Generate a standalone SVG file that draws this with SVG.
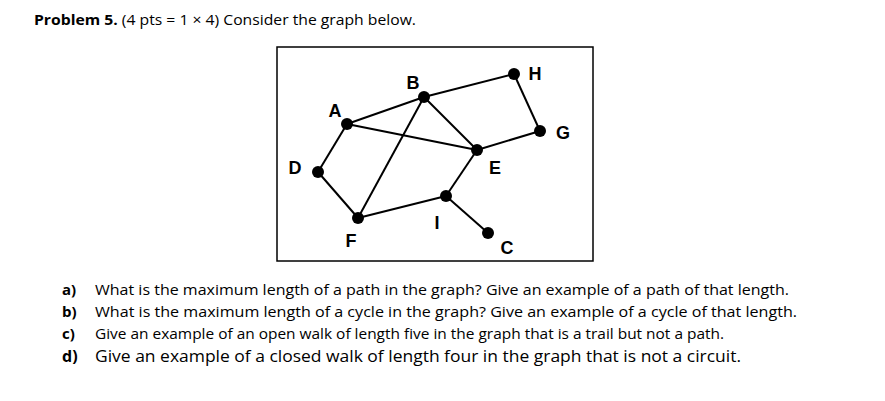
<svg xmlns="http://www.w3.org/2000/svg" width="885" height="401" viewBox="0 0 885 401">
<style>
.t{font-family:"Open Sans","Liberation Sans",sans-serif;font-size:15px;fill:#000}
.l{font-family:"Liberation Sans",Arial,sans-serif;font-size:18px;font-weight:bold;fill:#000;text-anchor:middle}
.e{stroke:#000;stroke-width:2}
</style>
<rect width="885" height="401" fill="#fff"/>
<text class="t" x="34" y="25" textLength="382" lengthAdjust="spacingAndGlyphs"><tspan font-weight="bold">Problem 5.</tspan> (4 pts = 1 × 4) Consider the graph below.</text>
<rect x="277" y="47" width="316" height="214" fill="none" stroke="#000" stroke-width="1.5"/>
<g id="edges" class="e">
<line x1="347" y1="124" x2="424" y2="97"/>
<line x1="424" y1="97" x2="514" y2="74"/>
<line x1="514" y1="74" x2="540" y2="131"/>
<line x1="540" y1="131" x2="477" y2="150"/>
<line x1="347" y1="124" x2="477" y2="150"/>
<line x1="424" y1="97" x2="477" y2="150"/>
<line x1="424" y1="97" x2="358" y2="218"/>
<line x1="347" y1="124" x2="318" y2="172"/>
<line x1="318" y1="172" x2="358" y2="218"/>
<line x1="358" y1="218" x2="446" y2="196"/>
<line x1="446" y1="196" x2="477" y2="150"/>
<line x1="446" y1="196" x2="488" y2="233"/>
</g>
<g id="A"><circle cx="347" cy="124" r="6"/><text class="l" x="335" y="117">A</text></g>
<g id="B"><circle cx="424" cy="97" r="6"/><text class="l" x="413" y="89">B</text></g>
<g id="H"><circle cx="514" cy="74" r="6"/><text class="l" x="535" y="80">H</text></g>
<g id="G"><circle cx="540" cy="131" r="6"/><text class="l" x="563" y="139">G</text></g>
<g id="E"><circle cx="477" cy="150" r="6"/><text class="l" x="495" y="174">E</text></g>
<g id="D"><circle cx="318" cy="172" r="6"/><text class="l" x="295" y="174">D</text></g>
<g id="I"><circle cx="446" cy="196" r="6"/><text class="l" x="437" y="229">I</text></g>
<g id="F"><circle cx="358" cy="218" r="6"/><text class="l" x="351" y="247">F</text></g>
<g id="C"><circle cx="488" cy="233" r="6"/><text class="l" x="507" y="254">C</text></g>
<g class="t">
<text x="62" y="295" font-weight="bold">a)</text>
<text x="95" y="295" textLength="694" lengthAdjust="spacingAndGlyphs">What is the maximum length of a path in the graph? Give an example of a path of that length.</text>
<text x="62" y="317" font-weight="bold">b)</text>
<text x="95" y="317" textLength="702" lengthAdjust="spacingAndGlyphs">What is the maximum length of a cycle in the graph? Give an example of a cycle of that length.</text>
<text x="62" y="339" font-weight="bold">c)</text>
<text x="95" y="339" textLength="629" lengthAdjust="spacingAndGlyphs">Give an example of an open walk of length five in the graph that is a trail but not a path.</text>
<text x="62" y="362" font-weight="bold" font-size="16">d)</text>
<text x="95" y="362" font-size="16" textLength="646" lengthAdjust="spacingAndGlyphs">Give an example of a closed walk of length four in the graph that is not a circuit.</text>
</g>
</svg>
